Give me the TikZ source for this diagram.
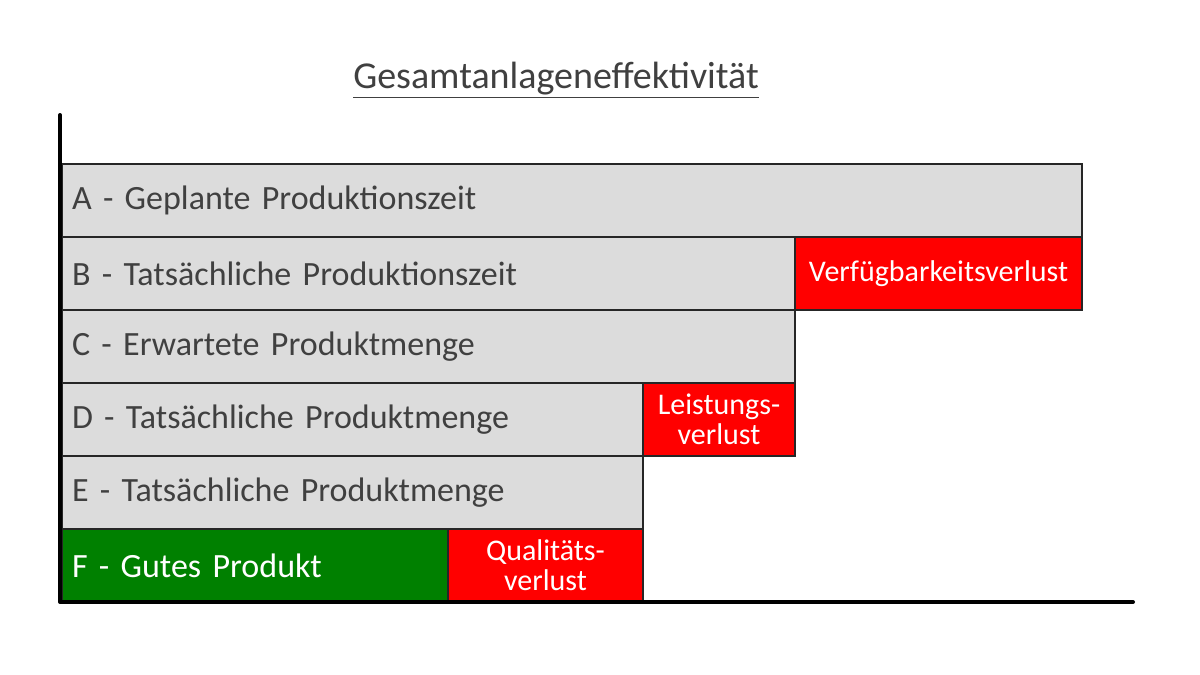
\documentclass[tikz,border=0pt]{standalone}
\usepackage{fontspec}
\setmainfont{Carlito}
\usetikzlibrary{positioning}

\definecolor{bargrey}{RGB}{220,220,220}
\definecolor{losered}{RGB}{255,0,0}
\definecolor{goodgreen}{RGB}{0,128,0}
\definecolor{labelgrey}{RGB}{64,64,64}

\begin{document}
\begin{tikzpicture}
[x=1pt,y=-1pt,%
  bar/.style={draw=black!85,line width=1.5pt,fill=bargrey,minimum height=73pt,%
    inner xsep=10pt,inner ysep=0pt,outer sep=0pt,align=left,text=labelgrey,%
    font=\fontsize{34}{40}\selectfont},%
  loss/.style={draw=black!85,line width=1.5pt,fill=losered,minimum height=73pt,%
    inner xsep=4pt,inner ysep=0pt,outer sep=0pt,align=center,text=white,%
    font=\fontsize{30}{30}\selectfont},%
  good/.style={bar,fill=goodgreen,text=white},%
  axis/.style={line width=4pt,line cap=round,line join=round}]
\useasboundingbox (0,0) rectangle (1200,675);
\node[text=labelgrey,font=\fontsize{38}{42}\selectfont] (title) at (556,80)
  {\underline{Gesamtanlageneffektivität}};
\node[bar,text width=1000pt,anchor=north west] (a) at (62,164)
  {A - Geplante Produktionszeit};
\node[bar,text width=713pt,below right=0pt and 0pt of a.south west] (b)
  {B - Tatsächliche Produktionszeit};
\node[loss,text width=279pt,right=0pt of b] (bl) {Verfügbarkeitsverlust};
\node[bar,text width=713pt,below right=0pt and 0pt of b.south west] (c)
  {C - Erwartete Produktmenge};
\node[bar,text width=561pt,below right=0pt and 0pt of c.south west] (d)
  {D - Tatsächliche Produktmenge};
\node[loss,text width=144pt,right=0pt of d] (dl) {Leistungs-\\verlust};
\node[bar,text width=561pt,below right=0pt and 0pt of d.south west] (e)
  {E - Tatsächliche Produktmenge};
\node[good,text width=366pt,below right=0pt and 0pt of e.south west] (f)
  {F - Gutes Produkt};
\node[loss,text width=187pt,right=0pt of f] (fl) {Qualitäts-\\verlust};
% axes
\coordinate (ytop) at (60,115);
\coordinate (o) at (60,602);
\coordinate (xend) at (1133,602);
\draw[axis] (ytop) -- (o) -- (xend);
\end{tikzpicture}
\end{document}
